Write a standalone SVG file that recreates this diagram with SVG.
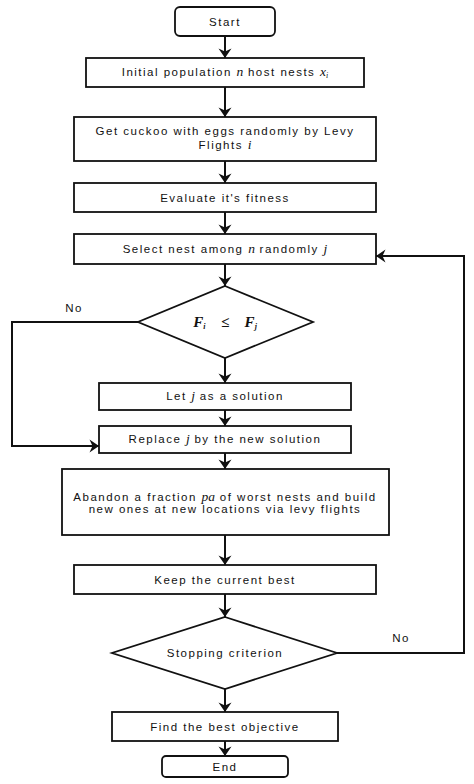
<svg xmlns="http://www.w3.org/2000/svg" width="474" height="784" viewBox="0 0 474 784">
<style>
.box{fill:#fff;stroke:#111;stroke-width:1.8}
.ln{fill:none;stroke:#111;stroke-width:2;marker-end:url(#ah)}
text{font-family:"Liberation Sans",Arial,sans-serif;font-size:11.5px;letter-spacing:1.5px;fill:#111;text-anchor:middle}
.m{font-family:"Liberation Serif","Times New Roman",serif;font-style:italic;font-size:13.5px;letter-spacing:0}
.s{font-size:8px}
</style>
<defs>
<marker id="ah" viewBox="-10 -7 11 14" refX="0" refY="0" markerWidth="11" markerHeight="14" markerUnits="userSpaceOnUse" orient="auto">
<path d="M-9.5,-6.5 L0,0 L-9.5,6.5 L-6.5,0 z" fill="#111"/>
</marker>
</defs>
<g id="connectors">
<path class="ln" d="M225,36 V58"/>
<path class="ln" d="M225,87 V117"/>
<path class="ln" d="M225,161 V183"/>
<path class="ln" d="M225,212 V234"/>
<path class="ln" d="M225,264 V286"/>
<path class="ln" d="M225,358 V383"/>
<path class="ln" d="M225,410 V426"/>
<path class="ln" d="M225,453 V469"/>
<path class="ln" d="M225,535 V565"/>
<path class="ln" d="M225,594 V617"/>
<path class="ln" d="M225,689 V712"/>
<path class="ln" d="M225,741 V756"/>
<path class="ln" d="M138,322 H12 V446 H99"/>
<path class="ln" d="M337,653 H464 V256 H376"/>
<text x="74" y="312">No</text>
<text x="401" y="642">No</text>
</g>
<g id="start"><rect class="box" x="175" y="7" width="100" height="29" rx="5"/><text x="225" y="26">Start</text></g>
<g id="init"><rect class="box" x="86" y="58" width="278" height="29"/><text x="225" y="76">Initial population <tspan class="m">n</tspan> host nests <tspan class="m">x</tspan><tspan class="m s" dy="2">i</tspan></text></g>
<g id="cuckoo"><rect class="box" x="74" y="117" width="302" height="44"/><text x="225" y="135">Get cuckoo with eggs randomly by Levy</text><text x="225" y="149">Flights <tspan class="m">i</tspan></text></g>
<g id="evaluate"><rect class="box" x="74" y="183" width="302" height="29"/><text x="225" y="202">Evaluate it's fitness</text></g>
<g id="select"><rect class="box" x="74" y="234" width="302" height="30"/><text x="225" y="253">Select nest among <tspan class="m">n</tspan> randomly <tspan class="m">j</tspan></text></g>
<g id="compare"><path class="box" d="M225,286 L313,322 L225,358 L138,322 Z"/><text x="225" y="327" class="m" style="font-weight:bold;font-size:15px;word-spacing:4px">F<tspan class="s" dy="2">i</tspan><tspan dy="-2" xml:space="preserve">  ≤  F</tspan><tspan class="s" dy="2">j</tspan></text></g>
<g id="letj"><rect class="box" x="99" y="383" width="252" height="27"/><text x="225" y="400">Let <tspan class="m">j</tspan> as a solution</text></g>
<g id="replace"><rect class="box" x="99" y="426" width="252" height="27"/><text x="225" y="443">Replace <tspan class="m">j</tspan> by the new solution</text></g>
<g id="abandon"><rect class="box" x="62" y="469" width="327" height="66"/><text x="225" y="501">Abandon a fraction <tspan class="m">pa</tspan> of worst nests and build</text><text x="225" y="513">new ones at new locations via levy flights</text></g>
<g id="keep"><rect class="box" x="74" y="565" width="302" height="29"/><text x="225" y="584">Keep the current best</text></g>
<g id="stop"><path class="box" d="M225,617 L337,653 L225,689 L112,653 Z"/><text x="225" y="657">Stopping criterion</text></g>
<g id="find"><rect class="box" x="112" y="712" width="226" height="29"/><text x="225" y="731">Find the best objective</text></g>
<g id="end"><rect class="box" x="162" y="756" width="126" height="21" rx="4"/><text x="225" y="771">End</text></g>
</svg>
